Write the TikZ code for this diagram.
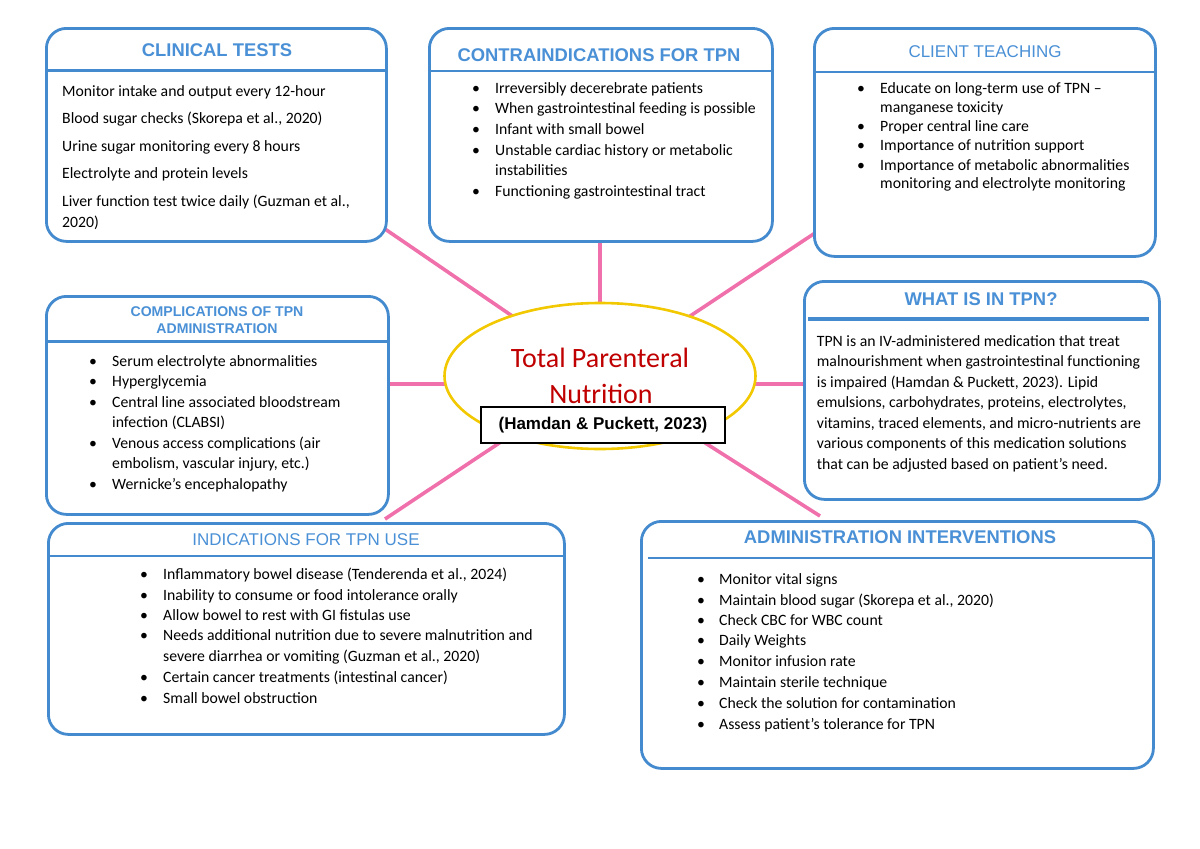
\documentclass[tikz,border=0pt]{standalone}
\usepackage{fontspec}
\setmainfont{Carlito}
\newfontfamily\arialf{Liberation Sans}
\usetikzlibrary{shapes.geometric}
\definecolor{tpnblue}{RGB}{68,138,206}
\definecolor{ttlblue}{RGB}{74,144,214}
\definecolor{tpnpink}{RGB}{240,112,172}
\definecolor{tpngold}{RGB}{242,200,0}
\definecolor{tpnred}{RGB}{192,0,0}
\newcounter{tlc}
\newcommand\TL[3]{\stepcounter{tlc}\node[bodytxt] (t\arabic{tlc}) at (#1,#2) {#3};}
\newcommand\BL[4]{\stepcounter{tlc}\node[bodytxt] (b\arabic{tlc}) at (#1,#3) {•};\TL{#2}{#3}{#4}}
\begin{document}
\begin{tikzpicture}[x=1pt,y=-1pt,
 box/.style={draw=tpnblue, line width=2.8pt, rounded corners=20pt, fill=white, inner sep=0, anchor=north west},
 divline/.style={draw=tpnblue, line width=2.4pt},
 conn/.style={draw=tpnpink, line width=3.6pt},
 ttlb/.style={anchor=base, inner sep=0, text=ttlblue, font=\arialf\bfseries\fontsize{18.4}{20}\selectfont},
 ttlr/.style={anchor=base, inner sep=0, text=ttlblue, font=\arialf\fontsize{17}{20}\selectfont},
 ttls/.style={anchor=base, inner sep=0, text=ttlblue, font=\arialf\bfseries\fontsize{14.1}{16}\selectfont},
 bodytxt/.style={anchor=base west, inner sep=0, font=\fontsize{15.75}{18}\selectfont},
]
\useasboundingbox (0,0) rectangle (1200,849);
\fill[white] (0,0) rectangle (1200,849);

% centre ellipse (placed first so connectors can reference it)
\node[ellipse, minimum width=311pt, minimum height=146pt, inner sep=0] (ell) at (600,376) {};

% connector end points on the boxes
\coordinate (c1) at (385,229);
\coordinate (c2) at (600,240);
\coordinate (c3) at (815,233);
\coordinate (c4) at (387,384);
\coordinate (c5) at (803,384);
\coordinate (c6) at (385,519);
\coordinate (c7) at (820,516);

\draw[conn] (c1) -- (ell.center);
\draw[conn] (c2) -- (ell.center);
\draw[conn] (c3) -- (ell.center);
\draw[conn] (c4) -- (c4 -| ell.center);
\draw[conn] (c5) -- (c5 -| ell.center);
\draw[conn] (c6) -- (ell.center);
\draw[conn] (c7) -- (ell.center);

% boxes
\node[box, minimum width=340pt, minimum height=213pt] (ct) at (45,27) {};
\node[box, minimum width=343pt, minimum height=213pt] (ci) at (428,27) {};
\node[box, minimum width=341pt, minimum height=228pt] (cl) at (813,27) {};
\node[box, minimum width=342pt, minimum height=218pt] (cp) at (45,295) {};
\node[box, minimum width=355pt, minimum height=218pt] (wt) at (803,280) {};
\node[box, minimum width=516pt, minimum height=211pt] (ind) at (47,522) {};
\node[box, minimum width=512pt, minimum height=247pt] (ad) at (640,520) {};

% dividers
\draw[divline] (45,70.5) -- (385,70.5);
\draw[divline] (428,71) -- (771,71);
\draw[divline] (813,72) -- (1154,72);
\draw[divline] (45,341.5) -- (387,341.5);
\draw[divline, line width=4pt] (808,318.5) -- (1149,318.5);
\draw[divline] (47,556) -- (563,556);
\draw[divline] (648,558) -- (1152,558);

% ellipse drawing and citation label
\node[ellipse, draw=tpngold, fill=white, line width=2.6pt, minimum width=311pt, minimum height=146pt, inner sep=0] (ellv) at (ell.center) {};
\node[anchor=base, inner sep=0, text=tpnred, font=\fontsize{28}{30}\selectfont] (tp1) at (600,367) {Total Parenteral};
\node[anchor=base, inner sep=0, text=tpnred, font=\fontsize{28}{30}\selectfont] (tp2) at (601,403) {Nutrition};
\node[draw=black, line width=1.8pt, fill=white, minimum width=244pt, minimum height=36pt, inner sep=0, font=\arialf\bfseries\fontsize{17}{20}\selectfont] (cite) at (603,425) {(Hamdan \& Puckett, 2023)};

% titles
\node[ttlb] (h1) at (217,56) {CLINICAL TESTS};
\node[ttlb] (h2) at (599,61) {CONTRAINDICATIONS FOR TPN};
\node[ttlr] (h3) at (985,57) {CLIENT TEACHING};
\node[ttls] (h4a) at (217,316) {COMPLICATIONS OF TPN};
\node[ttls] (h4b) at (217,333) {ADMINISTRATION};
\node[ttlb] (h5) at (981,305) {WHAT IS IN TPN?};
\node[ttlr] (h6) at (306,545) {INDICATIONS FOR TPN USE};
\node[ttlb] (h7) at (900,543) {ADMINISTRATION INTERVENTIONS};

% clinical tests
\TL{62}{96}{Monitor intake and output every 12-hour}
\TL{62}{123.5}{Blood sugar checks (Skorepa et al., 2020)}
\TL{62}{151}{Urine sugar monitoring every 8 hours}
\TL{62}{178.5}{Electrolyte and protein levels}
\TL{62}{206}{Liver function test twice daily (Guzman et al.,}
\TL{62}{227}{2020)}

% contraindications
\BL{472}{495}{93}{Irreversibly decerebrate patients}
\BL{472}{495}{113.7}{When gastrointestinal feeding is possible}
\BL{472}{495}{134.4}{Infant with small bowel}
\BL{472}{495}{155.1}{Unstable cardiac history or metabolic}
\TL{495}{175.8}{instabilities}
\BL{472}{495}{196.5}{Functioning gastrointestinal tract}

% client teaching
\BL{857}{880}{93}{Educate on long-term use of TPN –}
\TL{880}{112.5}{manganese toxicity}
\BL{857}{880}{131.5}{Proper central line care}
\BL{857}{880}{150.7}{Importance of nutrition support}
\BL{857}{880}{170}{Importance of metabolic abnormalities}
\TL{880}{188.8}{monitoring and electrolyte monitoring}

% complications
\BL{89}{112}{366.7}{Serum electrolyte abnormalities}
\BL{89}{112}{386.7}{Hyperglycemia}
\BL{89}{112}{407.5}{Central line associated bloodstream}
\TL{112}{427.7}{infection (CLABSI)}
\BL{89}{112}{448.3}{Venous access complications (air}
\TL{112}{468.5}{embolism, vascular injury, etc.)}
\BL{89}{112}{489}{Wernicke’s encephalopathy}

% what is in TPN
\TL{816.7}{346.7}{TPN is an IV-administered medication that treat}
\TL{816.7}{366.7}{malnourishment when gastrointestinal functioning}
\TL{816.7}{387}{is impaired (Hamdan \& Puckett, 2023). Lipid}
\TL{816.7}{407.5}{emulsions, carbohydrates, proteins, electrolytes,}
\TL{816.7}{428}{vitamins, traced elements, and micro-nutrients are}
\TL{816.7}{448.3}{various components of this medication solutions}
\TL{816.7}{469}{that can be adjusted based on patient’s need.}

% indications
\BL{140}{163}{579}{Inflammatory bowel disease (Tenderenda et al., 2024)}
\BL{140}{163}{600}{Inability to consume or food intolerance orally}
\BL{140}{163}{620}{Allow bowel to rest with GI fistulas use}
\BL{140}{163}{640.5}{Needs additional nutrition due to severe malnutrition and}
\TL{163}{661}{severe diarrhea or vomiting (Guzman et al., 2020)}
\BL{140}{163}{682}{Certain cancer treatments (intestinal cancer)}
\BL{140}{163}{703}{Small bowel obstruction}

% administration interventions
\BL{697}{719}{584.3}{Monitor vital signs}
\BL{697}{719}{605}{Maintain blood sugar (Skorepa et al., 2020)}
\BL{697}{719}{625}{Check CBC for WBC count}
\BL{697}{719}{645.7}{Daily Weights}
\BL{697}{719}{666.7}{Monitor infusion rate}
\BL{697}{719}{687.3}{Maintain sterile technique}
\BL{697}{719}{708.3}{Check the solution for contamination}
\BL{697}{719}{729}{Assess patient’s tolerance for TPN}
\end{tikzpicture}
\end{document}
